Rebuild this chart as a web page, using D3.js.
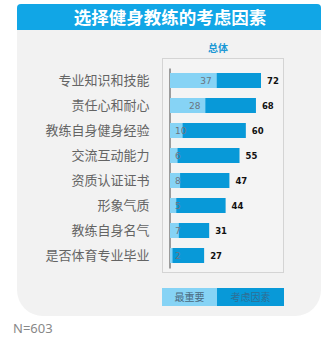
<!DOCTYPE html>
<html>
<head>
<meta charset="utf-8">
<script src="https://cdn.jsdelivr.net/npm/d3@7"></script>
<style>
  html, body { margin: 0; padding: 0; background: #fff; }
  svg { display: block; font-family: "Noto Sans CJK SC", "Noto Sans", sans-serif; }
</style>
</head>
<body>
<svg id="chart" width="330" height="337"></svg>
<script>
// chart data
const categories = ["专业知识和技能", "责任心和耐心", "教练自身健身经验", "交流互动能力",
  "资质认证证书", "形象气质", "教练自身名气", "是否体育专业毕业"];
const mostImportant = [37, 28, 10, 6, 8, 5, 7, 2];
const considered = [72, 68, 60, 55, 47, 44, 31, 27];
const seriesNames = ["最重要", "考虑因素"];
const titleText = "选择健身教练的考虑因素";
const panelTitle = "总体";
const sampleNote = "N=603";

const colors = { light: "#86d3f5", dark: "#0899d8", title: "#11a6e6" };

const svg = d3.select("#chart");

// card background: rounded top (small) and bottom (large) corners
const cx0 = 17, cx1 = 321, cy0 = 4, cy1 = 316, rt = 4, rb = 26;
const card = d3.path();
card.moveTo(cx0 + rt, cy0);
card.lineTo(cx1 - rt, cy0);
card.arcTo(cx1, cy0, cx1, cy0 + rt, rt);
card.lineTo(cx1, cy1 - rb);
card.arcTo(cx1, cy1, cx1 - rb, cy1, rb);
card.lineTo(cx0 + rb, cy1);
card.arcTo(cx0, cy1, cx0, cy1 - rb, rb);
card.lineTo(cx0, cy0 + rt);
card.arcTo(cx0, cy0, cx0 + rt, cy0, rt);
card.closePath();
svg.append("path").attr("d", card.toString()).attr("fill", "#f2f2f2");

// title bar
const bar = d3.path();
bar.moveTo(cx0, 30);
bar.lineTo(cx0, cy0 + rt);
bar.arcTo(cx0, cy0, cx0 + rt, cy0, rt);
bar.lineTo(cx1 - rt, cy0);
bar.arcTo(cx1, cy0, cx1, cy0 + rt, rt);
bar.lineTo(cx1, 30);
bar.closePath();
svg.append("path").attr("d", bar.toString()).attr("fill", colors.title);

svg.append("text")
  .attr("x", 170).attr("y", 23.5)
  .attr("text-anchor", "middle")
  .attr("fill", "#fff")
  .style("font-size", "17.5px").style("font-weight", "bold")
  .text(titleText);

svg.append("text")
  .attr("x", 218).attr("y", 52)
  .attr("text-anchor", "middle")
  .attr("fill", "#1b98d5")
  .style("font-size", "10px").style("font-weight", "bold")
  .text(panelTitle);

// plot panel
svg.append("rect")
  .attr("x", 162.5).attr("y", 58.5).attr("width", 121).attr("height", 214)
  .attr("fill", "#f4f4f4").attr("stroke", "#d4d4d4");

const x = d3.scaleLinear().domain([0, 72]).range([170, 261]);
const y = d3.scaleBand().domain(categories).range([68, 268])
  .paddingInner(0.4).paddingOuter(0.2);

const yAxis = svg.append("g")
  .attr("transform", `translate(${x(0) - 0.5},0)`)
  .call(d3.axisLeft(y).tickSize(0).tickPadding(20));
yAxis.select(".domain").attr("stroke", "#444");
yAxis.selectAll("text")
  .attr("fill", "#646464")
  .style("font-size", "13px")
  .style("font-family", "'Noto Sans CJK SC', sans-serif");

const rows = categories.map((c, i) => ({ cat: c, a: mostImportant[i], b: considered[i] }));

const g = svg.append("g");
g.selectAll(".dark").data(rows).join("rect")
  .attr("x", x(0)).attr("y", d => y(d.cat))
  .attr("width", d => x(d.b) - x(0)).attr("height", y.bandwidth())
  .attr("fill", colors.dark);
g.selectAll(".light").data(rows).join("rect")
  .attr("x", x(0)).attr("y", d => y(d.cat))
  .attr("width", d => x(d.a) - x(0)).attr("height", y.bandwidth())
  .attr("fill", colors.light);

// inner labels (most important)
g.selectAll(".inner").data(rows).join("text")
  .attr("y", d => y(d.cat) + y.bandwidth() / 2 + 3)
  .attr("fill", "#6b7580")
  .style("font-size", "9px")
  .style("font-family", "'DejaVu Sans', sans-serif")
  .text(d => d.a)
  .each(function(d) {
    const w = this.getComputedTextLength();
    const start = Math.max(x(d.a) - 5 - w, x(0) + 5);
    d3.select(this).attr("x", start);
  });

// outer labels (considered)
g.selectAll(".outer").data(rows).join("text")
  .attr("x", d => x(d.b) + 6)
  .attr("y", d => y(d.cat) + y.bandwidth() / 2 + 3)
  .attr("fill", "#111")
  .style("font-size", "8.5px").style("font-weight", "bold")
  .style("font-family", "'DejaVu Sans', sans-serif")
  .text(d => d.b);

// legend
const legend = [
  { name: seriesNames[0], x: 162, w: 55, fill: colors.light },
  { name: seriesNames[1], x: 217, w: 67, fill: colors.dark }
];
const lg = svg.append("g");
lg.selectAll("rect").data(legend).join("rect")
  .attr("x", d => d.x).attr("y", 288).attr("width", d => d.w).attr("height", 18)
  .attr("fill", d => d.fill);
lg.selectAll("text").data(legend).join("text")
  .attr("x", d => d.x + d.w / 2).attr("y", 301)
  .attr("text-anchor", "middle")
  .attr("fill", (d, i) => i === 0 ? "#4a6a80" : "#2f6f95")
  .style("font-size", "10px")
  .text(d => d.name);

svg.append("text")
  .attr("x", 13).attr("y", 333)
  .attr("fill", "#888")
  .style("font-size", "13px")
  .style("font-family", "'Noto Sans', sans-serif")
  .text(sampleNote);
</script>
</body>
</html>
